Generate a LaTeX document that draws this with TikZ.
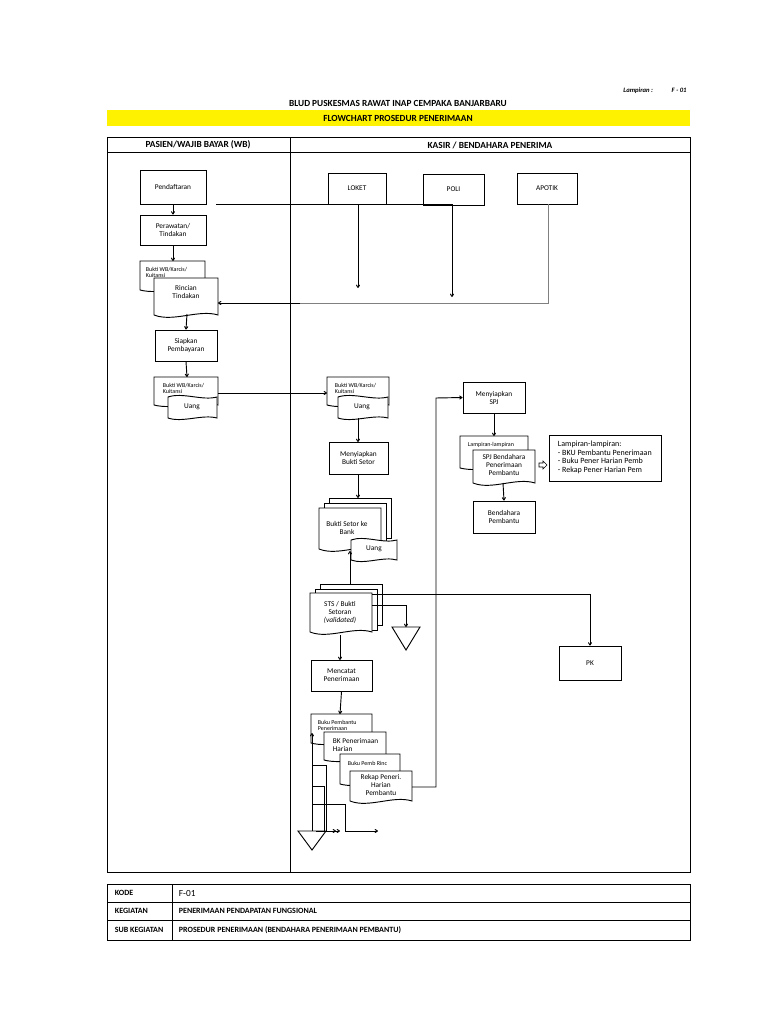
\documentclass[tikz,border=0pt]{standalone}
\usepackage{fontspec}
\setmainfont{Carlito}
\usetikzlibrary{arrows.meta}
\newcommand\docn[6]{% name x1 y1 x2 y2 wave
 \draw[fill=white] (#2,#3) -- (#4,#3) -- (#4,{#5-#6}) .. controls ({#2+0.7*(#4-#2)},{#5-3*#6}) and ({#2+0.3*(#4-#2)},{#5+1.5*#6}) .. (#2,{#5-#6}) -- cycle;
 \node[inner sep=0,minimum width={(#4-#2)*0.75pt},minimum height={(#5-#3)*0.75pt}] (#1) at ({(#2+#4)/2},{(#3+#5)/2}) {};}
\newcommand\tapen[6]{% name x1 y1 x2 y2 wave
 \draw[fill=white] (#2,{#3+#6}) .. controls ({#2+0.3*(#4-#2)},{#3-1.5*#6}) and ({#2+0.7*(#4-#2)},{#3+3*#6}) .. (#4,{#3+#6}) -- (#4,{#5-#6}) .. controls ({#2+0.7*(#4-#2)},{#5-3*#6}) and ({#2+0.3*(#4-#2)},{#5+1.5*#6}) .. (#2,{#5-#6}) -- cycle;
 \node[inner sep=0,minimum width={(#4-#2)*0.75pt},minimum height={(#5-#3)*0.75pt}] (#1) at ({(#2+#4)/2},{(#3+#5)/2}) {};}
\newcommand\boxn[6]{\node[box,minimum width={(#4-#2)*0.75pt},minimum height={(#5-#3)*0.75pt}] (#1) at ({(#2+#4)/2},{(#3+#5)/2}) {#6};}
\begin{document}
\begin{tikzpicture}[x=0.75pt,y=-0.75pt,line width=0.7pt,
 every node/.style={font=\fontsize{5.5}{6}\selectfont,align=center},
 box/.style={draw,fill=white,inner sep=0},
 arr/.style={-{To[length=2.5pt,width=3pt]}},
 hd/.style={font=\fontsize{7}{8}\selectfont\bfseries},
 tb/.style={font=\fontsize{6}{7}\selectfont\bfseries,anchor=west},
 sm/.style={anchor=north west,font=\fontsize{4.5}{5}\selectfont,align=left}]
\useasboundingbox (0,0) rectangle (768,1024);
\fill[white] (0,0) rectangle (768,1024);
% header
\node[font=\fontsize{5}{6}\selectfont\bfseries\itshape] (lamp) at (655,91) {Lampiran :\hspace{14pt}F - 01};
\node[hd] (title) at (398,103) {BLUD PUSKESMAS RAWAT INAP CEMPAKA BANJARBARU};
\fill[yellow] (107,110) rectangle (690,126);
\node[hd] (fc) at (398,118) {FLOWCHART PROSEDUR PENERIMAAN};
% main table
\draw (107,137) rectangle (690,872);
\draw (107,152) -- (690,152);
\draw (290,137) -- (290,872);
\node[hd] (h1) at (198,145) {PASIEN/WAJIB BAYAR (WB)};
\node[hd] (h2) at (490,145) {KASIR / BENDAHARA PENERIMA};
% bottom table
\draw (107,884) rectangle (690,940);
\draw (107,902) -- (690,902) (107,920) -- (690,920) (172,884) -- (172,940);
\node[tb] (k1) at (110,893) {KODE};
\node[tb] (k2) at (110,911) {KEGIATAN};
\node[tb] (k3) at (110,930) {SUB KEGIATAN};
\node[tb,font=\fontsize{7}{8}\selectfont] (v1) at (174,893) {F-01};
\node[tb] (v2) at (174,911) {PENERIMAAN PENDAPATAN FUNGSIONAL};
\node[tb] (v3) at (174,930) {PROSEDUR PENERIMAAN (BENDAHARA PENERIMAAN PEMBANTU)};
% top boxes
\boxn{loket}{328}{173}{386}{204}{LOKET}
\boxn{poli}{423}{174}{484}{205}{POLI}
\boxn{apotik}{517}{173}{577}{204}{APOTIK}
\boxn{pend}{140}{170}{206}{204}{Pendaftaran}
\boxn{pera}{140}{215}{206}{245}{Perawatan/\\Tindakan}
\draw (216,204) -- (452,204);
\draw[arr] (358,204) -- (358,288);
\draw[arr] (452,204) -- (452,297);
\draw[gray] (548,204) -- (548,303) -- (300,303);
\draw[arr] (pend.south) -- (pera.north);
% left docs
\docn{bw1}{140}{261}{205}{292}{2}
\node[sm] (t1) at (141,262) {Bukti WB/Karcis/\\Kuitansi};
\docn{rinc}{154}{278}{218}{318}{3}
\node (t2) at (186,292) {Rincian\\Tindakan};
\draw[arr] (pera.south) -- (173,261);
\draw[arr] (300,303) -- (218,303);
\boxn{siap}{155}{330}{217}{361}{Siapkan\\Pembayaran}
\draw[arr] (187,314) -- (siap.north);
\docn{bw2}{154}{377}{218}{407}{2}
\node[sm] (t3) at (158,378) {Bukti WB/Karcis/\\Kuitansi};
\tapen{uang1}{168}{395}{217}{420}{2}
\node (t4) at (192,407) {Uang};
\draw[arr] (siap.south) -- (187,377);
% right docs
\docn{bw3}{327}{377}{389}{407}{2}
\node[sm] (t5) at (330,378) {Bukti WB/Karcis/\\Kuitansi};
\tapen{uang2}{338}{395}{388}{420}{2}
\node (t6) at (362,407) {Uang};
\draw[arr] (218,393) -- (327,393);
\boxn{mbs}{329}{442}{388}{474}{Menyiapkan\\Bukti Setor};
\draw[arr] (358,418) -- (358,442);
% bukti setor ke bank
\draw[fill=white] (329,498) rectangle (391,538);
\draw[fill=white] (324,503) rectangle (386,543);
\docn{bsb}{319}{508}{381}{552}{3}
\node (t7) at (347,528) {Bukti Setor ke\\Bank};
\tapen{uang3}{351}{538}{397}{562}{2}
\node (t8) at (374,549) {Uang};
\draw[arr] (358,474) -- (358,498);
% STS
\draw[fill=white] (320,584) rectangle (382,625);
\draw[fill=white] (315,589) rectangle (377,630);
\docn{sts}{310}{593}{372}{635}{3}
\node (t9) at (340,612) {STS / Bukti\\Setoran\\\textit{(validated)}};
\draw[arr] (350,584) -- (350,551);
\draw (392,627) -- (420,627) -- (406,650) -- cycle;
\coordinate (tri1) at (406,627);
\draw[arr] (372,605) -| (tri1);
\boxn{pk}{559}{646}{621}{680}{PK}
\draw[arr] (372,594) -| (pk.north);
\boxn{menc}{311}{660}{372}{691}{Mencatat\\Penerimaan}
\draw[arr] (340,635) -- (340,660);
% buku docs
\docn{bp}{311}{714}{372}{745}{2}
\node[sm] (t10) at (313,715) {Buku Pembantu\\Penerimaan};
\docn{bk}{324}{732}{386}{762}{2}
\node[anchor=north west,align=left] (t11) at (328,734) {BK Penerimaan\\Harian};
\docn{bpr}{340}{754}{400}{786}{2}
\node[sm] (t12) at (343,756) {Buku Pemb Rinc};
\docn{rek}{350}{771}{412}{804}{3}
\node (t13) at (381,785) {Rekap Peneri.\\Harian\\Pembantu};
\draw[arr] (menc.south) -- (340,714);
% bottom triangle & lines
\draw (298,831) -- (326,831) -- (312,850) -- cycle;
\draw[arr] (312,831) -- (312,733);
\draw (312,765) -- (326,765) -- (326,831);
\draw (312,786) -- (324,786) -- (324,831);
\draw[arr] (312,804) -- (345,804) -- (345,831) -- (378,831);
\draw[arr] (316,831) -- (336,831);
\draw[arr] (326,831) -- (340,831);
% SPJ
\boxn{spj}{463}{382}{525}{413}{Menyiapkan\\SPJ}
\draw[arr] (412,787) -- (436,787) -- (436,398) -- (spj.west);
\docn{lamp2}{460}{436}{528}{470}{2}
\node[sm] (t14) at (463,437) {Lampiran-lampiran};
\docn{spjb}{473}{450}{535}{486}{3}
\node (t15) at (504,465) {SPJ Bendahara\\Penerimaan\\Pembantu};
\draw[arr] (spj.south) -- (494,436);
\boxn{bend}{473}{501}{535}{533}{Bendahara\\Pembantu}
\draw[arr] (503,483) -- (bend.north);
\node[draw,fill=white,minimum width={112*0.75pt},minimum height={46*0.75pt},anchor=north west,inner sep=0] (note) at (549,435) {};
\node[anchor=north west,align=left,font=\fontsize{6}{6.5}\selectfont] (nt) at (553,436) {Lampiran-lampiran:\\- BKU Pembantu Penerimaan\\- Buku Pener Harian Pemb\\- Rekap Pener Harian Pem};
\draw[line width=0.4pt] (539,463) -- (543,463) -- (543,461) -- (547,465) -- (543,469) -- (543,467) -- (539,467) -- cycle;
\end{tikzpicture}
\end{document}
